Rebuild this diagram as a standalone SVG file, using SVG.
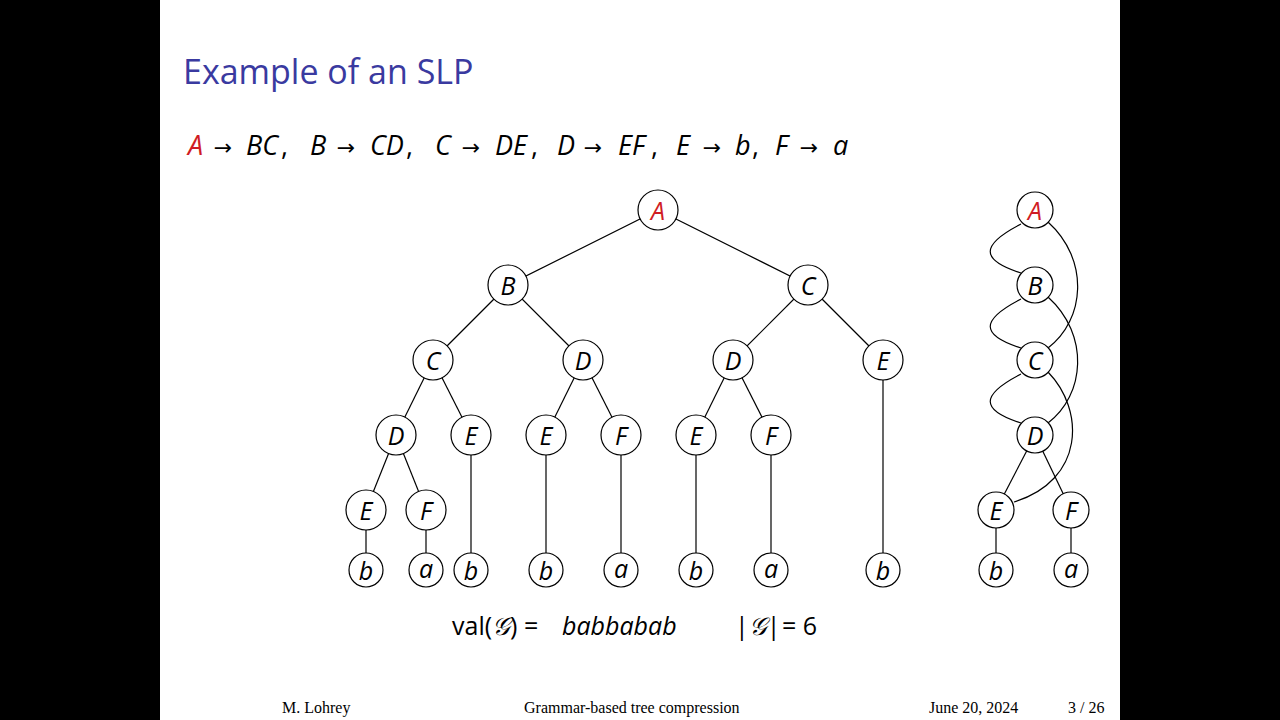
<svg xmlns="http://www.w3.org/2000/svg" width="1280" height="720" viewBox="0 0 1280 720">
<style>
.n circle{fill:#fff;stroke:#000;stroke-width:1.2}
.n text,.t{font-family:"Open Sans","DejaVu Sans",sans-serif;font-style:italic;font-size:25px;text-anchor:middle;dominant-baseline:central}
.e line,.e path{stroke:#000;stroke-width:1.2;fill:none}
.f{font-family:"Liberation Serif",serif;font-size:16px}
.r{font-family:"Open Sans",sans-serif;font-size:27px;font-style:italic}
.r .u{font-style:normal}
.r .w{font-style:normal;font-family:"DejaVu Sans",sans-serif;font-size:22px;text-anchor:middle}
</style>
<rect width="1280" height="720" fill="#000"/>
<rect x="160" width="960" height="720" fill="#fff"/>
<text x="183" y="84" font-family="Open Sans,sans-serif" font-size="34" fill="#3a3aa0">Example of an SLP</text>
<text y="155" class="r"><tspan x="188" fill="#d01c24">A</tspan><tspan x="223" class="w">→</tspan><tspan x="246">BC</tspan><tspan x="281" class="u">,</tspan><tspan x="310">B</tspan><tspan x="346" class="w">→</tspan><tspan x="370">CD</tspan><tspan x="406" class="u">,</tspan><tspan x="435">C</tspan><tspan x="471" class="w">→</tspan><tspan x="495">DE</tspan><tspan x="531" class="u">,</tspan><tspan x="557">D</tspan><tspan x="593" class="w">→</tspan><tspan x="618">EF</tspan><tspan x="651" class="u">,</tspan><tspan x="676">E</tspan><tspan x="712" class="w">→</tspan><tspan x="735">b</tspan><tspan x="752" class="u">,</tspan><tspan x="775">F</tspan><tspan x="809" class="w">→</tspan><tspan x="833">a</tspan></text>
<g class="e">
<line x1="658" y1="210" x2="508" y2="285"/><line x1="658" y1="210" x2="808" y2="285"/>
<line x1="508" y1="285" x2="433" y2="360"/><line x1="508" y1="285" x2="583" y2="360"/>
<line x1="808" y1="285" x2="733" y2="360"/><line x1="808" y1="285" x2="883" y2="360"/>
<line x1="433" y1="360" x2="396" y2="435"/><line x1="433" y1="360" x2="471" y2="435"/>
<line x1="583" y1="360" x2="546" y2="435"/><line x1="583" y1="360" x2="621" y2="435"/>
<line x1="733" y1="360" x2="696" y2="435"/><line x1="733" y1="360" x2="771" y2="435"/>
<line x1="883" y1="360" x2="883" y2="570"/>
<line x1="396" y1="435" x2="366" y2="510"/><line x1="396" y1="435" x2="426" y2="510"/>
<line x1="366" y1="510" x2="366" y2="570"/><line x1="426" y1="510" x2="426" y2="570"/>
<line x1="471" y1="435" x2="471" y2="570"/><line x1="546" y1="435" x2="546" y2="570"/>
<line x1="621" y1="435" x2="621" y2="570"/><line x1="696" y1="435" x2="696" y2="570"/>
<line x1="771" y1="435" x2="771" y2="570"/>
<path d="M1021,224 C980,245 980,260 1021,273"/>
<path d="M1048,222 C1090,260 1085,320 1048,348"/>
<path d="M1021,299 C980,320 980,335 1021,348"/>
<path d="M1048,297 C1090,335 1085,395 1048,423"/>
<path d="M1021,374 C980,395 980,410 1021,423"/>
<path d="M1048,372 C1085,410 1085,480 1014,502"/>
<line x1="1035" y1="435" x2="996" y2="510"/><line x1="1035" y1="435" x2="1071" y2="510"/>
<line x1="996" y1="510" x2="996" y2="570"/><line x1="1071" y1="510" x2="1071" y2="570"/>
</g>
<g id="tA" class="n"><circle cx="658" cy="210" r="20"/><text x="658" y="210" fill="#d01c24">A</text></g>
<g id="tB" class="n"><circle cx="508" cy="285" r="20"/><text x="508" y="285">B</text></g>
<g id="tC" class="n"><circle cx="808" cy="285" r="20"/><text x="808" y="285">C</text></g>
<g id="tC2" class="n"><circle cx="433" cy="360" r="20"/><text x="433" y="360">C</text></g>
<g id="tD1" class="n"><circle cx="583" cy="360" r="20"/><text x="583" y="360">D</text></g>
<g id="tD2" class="n"><circle cx="733" cy="360" r="20"/><text x="733" y="360">D</text></g>
<g id="tE1" class="n"><circle cx="883" cy="360" r="20"/><text x="883" y="360">E</text></g>
<g id="tD3" class="n"><circle cx="396" cy="435" r="20"/><text x="396" y="435">D</text></g>
<g id="tE2" class="n"><circle cx="471" cy="435" r="20"/><text x="471" y="435">E</text></g>
<g id="tE3" class="n"><circle cx="546" cy="435" r="20"/><text x="546" y="435">E</text></g>
<g id="tF1" class="n"><circle cx="621" cy="435" r="20"/><text x="621" y="435">F</text></g>
<g id="tE4" class="n"><circle cx="696" cy="435" r="20"/><text x="696" y="435">E</text></g>
<g id="tF2" class="n"><circle cx="771" cy="435" r="20"/><text x="771" y="435">F</text></g>
<g id="tE5" class="n"><circle cx="366" cy="510" r="20"/><text x="366" y="510">E</text></g>
<g id="tF3" class="n"><circle cx="426" cy="510" r="20"/><text x="426" y="510">F</text></g>
<g id="l1" class="n"><circle cx="366" cy="570" r="17"/><text x="366" y="570">b</text></g>
<g id="l2" class="n"><circle cx="426" cy="570" r="17"/><text x="426" y="568">a</text></g>
<g id="l3" class="n"><circle cx="471" cy="570" r="17"/><text x="471" y="570">b</text></g>
<g id="l4" class="n"><circle cx="546" cy="570" r="17"/><text x="546" y="570">b</text></g>
<g id="l5" class="n"><circle cx="621" cy="570" r="17"/><text x="621" y="568">a</text></g>
<g id="l6" class="n"><circle cx="696" cy="570" r="17"/><text x="696" y="570">b</text></g>
<g id="l7" class="n"><circle cx="771" cy="570" r="17"/><text x="771" y="568">a</text></g>
<g id="l8" class="n"><circle cx="883" cy="570" r="17"/><text x="883" y="570">b</text></g>
<g id="dA" class="n"><circle cx="1035" cy="210" r="18"/><text x="1035" y="210" fill="#d01c24">A</text></g>
<g id="dB" class="n"><circle cx="1035" cy="285" r="18"/><text x="1035" y="285">B</text></g>
<g id="dC" class="n"><circle cx="1035" cy="360" r="18"/><text x="1035" y="360">C</text></g>
<g id="dD" class="n"><circle cx="1035" cy="435" r="18"/><text x="1035" y="435">D</text></g>
<g id="dE" class="n"><circle cx="996" cy="510" r="18"/><text x="996" y="510">E</text></g>
<g id="dF" class="n"><circle cx="1071" cy="510" r="18"/><text x="1071" y="510">F</text></g>
<g id="db" class="n"><circle cx="996" cy="570" r="17"/><text x="996" y="570">b</text></g>
<g id="da" class="n"><circle cx="1071" cy="570" r="17"/><text x="1071" y="568">a</text></g>
<text x="452" y="635" font-family="Open Sans,sans-serif" font-size="25">val(<tspan font-family="Liberation Serif,serif" font-style="italic">𝒢</tspan>) = <tspan x="562" font-style="italic">babbabab</tspan></text>
<text x="735" y="635" font-family="Open Sans,sans-serif" font-size="25">|<tspan font-family="Liberation Serif,serif" font-style="italic">𝒢</tspan>|</text>
<text x="782" y="635" font-family="Open Sans,sans-serif" font-size="25">= 6</text>
<text x="282" y="713" class="f">M. Lohrey</text>
<text x="524" y="713" class="f">Grammar-based tree compression</text>
<text x="929" y="713" class="f">June 20, 2024</text>
<text x="1068" y="713" class="f">3 / 26</text>
</svg>
